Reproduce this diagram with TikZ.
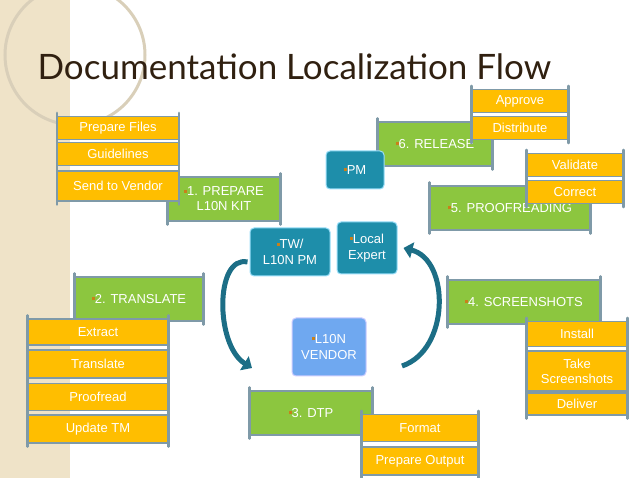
\documentclass[tikz,border=0pt]{standalone}
\usepackage{fontspec}
\setmainfont{Liberation Sans}
\newfontfamily\titlefont{Lato}
\usetikzlibrary{positioning,arrows.meta}
\definecolor{beige}{HTML}{EFE3C8}
\definecolor{leaf}{HTML}{8CC63F}
\definecolor{gold}{HTML}{FFBE00}
\definecolor{rod}{HTML}{7F9AA8}
\definecolor{sea}{HTML}{1E8EAA}
\definecolor{arr}{HTML}{1C6E86}
\definecolor{bul}{HTML}{C8801A}
\definecolor{vend}{HTML}{6FA8F0}
\newcommand{\bul}{\textcolor{bul}{\rule[3pt]{3pt}{3pt}}}
\tikzset{
  scroll/.style={draw=rod, line width=1.2pt, text=white, font=\fontsize{13}{15}\selectfont,
    align=center, inner sep=2pt,
    append after command={
      \pgfextra{\draw[rod, line width=2.5pt, line cap=round]
        ([yshift=3pt]\tikzlastnode.north west) -- ([yshift=-3pt]\tikzlastnode.south west);
      \draw[rod, line width=2.5pt, line cap=round]
        ([yshift=3pt]\tikzlastnode.north east) -- ([yshift=-3pt]\tikzlastnode.south east);}}},
  stage/.style={scroll, fill=leaf, minimum height=44pt},
  task/.style={scroll, fill=gold, minimum height=23pt},
  role/.style={draw=cyan!40, line width=1pt, rounded corners=4pt, fill=sea, text=white,
    font=\fontsize{13}{16}\selectfont, align=center, inner sep=1pt},
  flow/.style={arr, line width=5pt, -{Triangle[length=9pt,width=16pt]}}
}
\begin{document}
\begin{tikzpicture}[x=1pt,y=-1pt]
\useasboundingbox (0,0) rectangle (638,478);
\fill[beige] (0,0) rectangle (70,478);
\draw[beige!80!gray, line width=3pt] (75,55) circle (70);
\node[anchor=west, text=black!75!brown, font=\titlefont\fontsize{35}{40}\selectfont] (title) at (34,67) {Documentation Localization Flow};

% 1. prepare
\node[stage, minimum width=112pt] (prep) at (224,199) {\bul1. PREPARE\\L10N KIT};
\node[task, minimum width=121pt] (files) at (118,128) {Prepare Files};
\node[task, minimum width=121pt] (guide) at (118,154) {Guidelines};
\node[task, minimum width=121pt, minimum height=30pt] (send) at (118,186) {Send to Vendor};

% 6. release
\node[stage, minimum width=114pt] (rel) at (435,144) {\bul6. RELEASE};
\node[task, minimum width=96pt] (appr) at (520,101) {Approve};
\node[task, minimum width=96pt] (dist) at (520,128) {Distribute};
\node[role, minimum width=58pt, minimum height=38pt] (pm) at (355,170) {\bul PM};

% 5. proofreading
\node[stage, minimum width=160pt] (proof) at (510,208) {\bul5. PROOFREADING};
\node[task, minimum width=96pt] (val) at (575,165) {Validate};
\node[task, minimum width=96pt] (corr) at (575,192) {Correct};

% roles
\node[role, minimum width=80pt, minimum height=48pt] (tw) at (290,252) {\bul TW/\\L10N PM};
\node[role, minimum width=60pt, minimum height=52pt] (loc) at (367,248) {\bul Local\\Expert};
\node[role, fill=vend, draw=white!80!blue, minimum width=74pt, minimum height=58pt] (ven) at (329,347) {\bul L10N\\VENDOR};

% 2. translate
\node[stage, minimum width=128pt] (tra) at (139,299) {\bul2. TRANSLATE};
\node[task, minimum width=140pt, minimum height=26pt] (ext) at (98,332) {Extract};
\node[task, minimum width=140pt, minimum height=28pt] (trn) at (98,364) {Translate};
\node[task, minimum width=140pt, minimum height=27pt] (prf) at (98,397) {Proofread};
\node[task, minimum width=140pt, minimum height=28pt] (upd) at (98,429) {Update TM};

% 4. screenshots
\node[stage, minimum width=152pt] (scr) at (524,302) {\bul4. SCREENSHOTS};
\node[task, minimum width=100pt, minimum height=25pt] (ins) at (577,334) {Install};
\node[task, minimum width=100pt, minimum height=40pt] (take) at (577,371) {Take\\Screenshots};
\node[task, minimum width=100pt, minimum height=22pt] (del) at (577,404) {Deliver};

% 3. dtp
\node[stage, minimum width=122pt] (dtp) at (311,413) {\bul3. DTP};
\node[task, minimum width=116pt, minimum height=27pt] (fmt) at (420,428) {Format};
\node[task, minimum width=116pt, minimum height=28pt] (out) at (420,461) {Prepare Output};

% cycle
\coordinate (downend) at (252,368);
\coordinate (upstart) at (402,366);
\draw[flow] ([xshift=-2pt,yshift=-10pt]tw.west) .. controls (215,255) and (215,345) .. (downend);
\draw[flow] (upstart) .. controls (450,350) and (450,260) .. ([xshift=6pt]loc.east);
\end{tikzpicture}
\end{document}
